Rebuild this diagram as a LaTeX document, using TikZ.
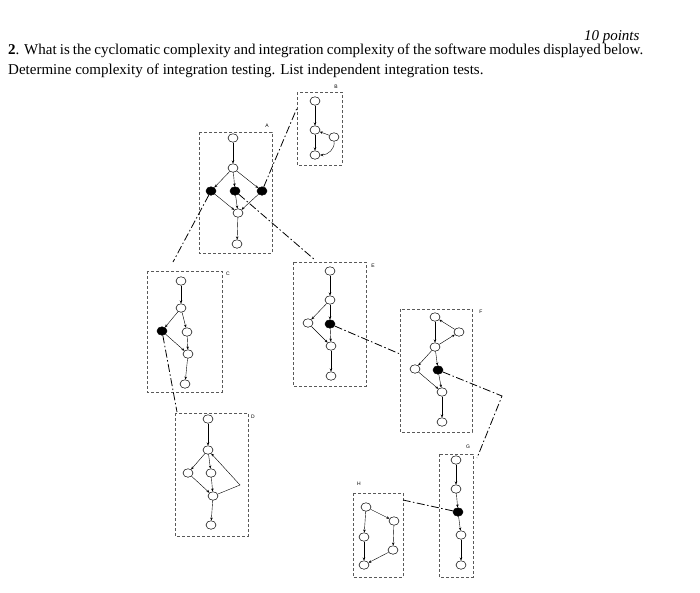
\documentclass[tikz,border=0pt]{standalone}
\usepackage{fontspec}
\setmainfont{Liberation Serif}
\setsansfont{Liberation Sans}
\usetikzlibrary{shapes.geometric,arrows.meta}
\begin{document}
\begin{tikzpicture}[x=1pt,y=-1pt,
  v/.style={ellipse,draw,line width=0.5pt,minimum width=10pt,minimum height=8.5pt,inner sep=0pt},
  b/.style={v,fill=black},
  e/.style={-{Stealth[length=3pt,width=2.5pt]},line width=0.4pt},
  box/.style={draw,densely dashed,line width=0.4pt,gray!70!black},
  lab/.style={font=\sffamily\fontsize{5}{6}\selectfont},
  link/.style={line width=0.8pt,dash pattern=on 8pt off 2.5pt on 1.5pt off 2.5pt}]
\useasboundingbox (0,0) rectangle (700,592);
\node[anchor=base east,font=\fontsize{15}{18}\selectfont\itshape] (pts) at (643,40) {10 points};
\node[anchor=north west,inner sep=0pt,text width=635pt,align=justify,font=\fontsize{15}{19.5}\selectfont] (q) at (8,44)
 {\textbf{2}. What is the cyclomatic complexity and integration complexity of the software modules displayed below. Determine complexity of integration testing. List independent integration tests.};
% A
\draw[box] (199,132) rectangle (272,253); \node[lab] (lA) at (267,126) {A};
\node[v] (a1) at (233,138) {}; \node[v] (a2) at (233,168) {};
\node[b] (a3) at (211,191) {}; \node[b] (a4) at (235,191) {}; \node[b] (a5) at (262,191) {};
\node[v] (a6) at (238,213) {}; \node[v] (a7) at (237,244) {};
\draw[e] (a1)--(a2); \draw[e] (a2)--(a3); \draw[e] (a2)--(a4); \draw[e] (a2)--(a5);
\draw[e] (a3)--(a6); \draw[e] (a4)--(a6); \draw[e] (a5)--(a6); \draw[e] (a6)--(a7);
% B
\draw[box] (297,92) rectangle (342,165); \node[lab] (lB) at (336,87) {B};
\node[v] (b1) at (315,101) {}; \node[v] (b2) at (315,130) {}; \node[v] (b3) at (334,137) {}; \node[v] (b4) at (315,155) {};
\draw[e] (b1)--(b2); \draw[e] (b2)--(b4); \draw[e] (b3)--(b2); \draw[e] (b3.south) to[out=-80,in=0] (b4);
% C
\draw[box] (147,271) rectangle (222,392); \node[lab] (lC) at (228,274) {C};
\node[v] (c1) at (181,281) {}; \node[v] (c2) at (181,308) {}; \node[b] (c3) at (162,331) {};
\node[v] (c4) at (187,332) {}; \node[v] (c5) at (188,354) {}; \node[v] (c6) at (185,384) {};
\draw[e] (c1)--(c2); \draw[e] (c2)--(c3); \draw[e] (c2)--(c4); \draw[e] (c3)--(c5); \draw[e] (c4)--(c5); \draw[e] (c5)--(c6);
% D
\draw[box] (175,413) rectangle (248,536); \node[lab] (lD) at (253,417) {D};
\node[v] (d1) at (208,419) {}; \node[v] (d2) at (208,450) {}; \node[v] (d3) at (188,473) {};
\node[v] (d4) at (211,473) {}; \node[v] (d5) at (213,496) {}; \node[v] (d6) at (211,525) {};
\coordinate (dk) at (240,485);
\draw[e] (d1)--(d2); \draw[e] (d2)--(d3); \draw[e] (d2)--(d4); \draw[e] (d3)--(d5); \draw[e] (d4)--(d5); \draw[e] (d5)--(d6);
\draw[e] (d5)--(dk)--(d2);
% E
\draw[box] (293,262) rectangle (366,386); \node[lab] (lE) at (373,266) {E};
\node[v] (e1) at (330,271) {}; \node[v] (e2) at (330,300) {}; \node[v] (e3) at (308,323) {};
\node[b] (e4) at (330,324) {}; \node[v] (e5) at (331,346) {}; \node[v] (e6) at (331,376) {};
\draw[e] (e1)--(e2); \draw[e] (e2)--(e3); \draw[e] (e2)--(e4); \draw[e] (e3)--(e5); \draw[e] (e4)--(e5); \draw[e] (e5)--(e6);
% F
\draw[box] (400,309) rectangle (472,432); \node[lab] (lF) at (481,312) {F};
\node[v] (f1) at (435,317) {}; \node[v] (f2) at (459,332) {}; \node[v] (f3) at (435,347) {};
\node[v] (f4) at (415,369) {}; \node[b] (f5) at (438,370) {}; \node[v] (f6) at (442,392) {}; \node[v] (f7) at (442,422) {};
\draw[e] (f1)--(f3); \draw[e] (f3)--(f2); \draw[e] (f2)--(f1); \draw[e] (f3)--(f4); \draw[e] (f3)--(f5);
\draw[e] (f4)--(f6); \draw[e] (f5)--(f6); \draw[e] (f6)--(f7);
% G
\draw[box] (439,454) rectangle (473,577); \node[lab] (lG) at (468,447) {G};
\node[v] (g1) at (456,460) {}; \node[v] (g2) at (456,489) {}; \node[b] (g3) at (458,512) {};
\node[v] (g4) at (461,535) {}; \node[v] (g5) at (461,565) {};
\draw[e] (g1)--(g2); \draw[e] (g2)--(g3); \draw[e] (g3)--(g4); \draw[e] (g4)--(g5);
% H
\draw[box] (353,493) rectangle (403,577); \node[lab] (lH) at (359,484) {H};
\node[v] (h1) at (366,507) {}; \node[v] (h2) at (394,521) {}; \node[v] (h3) at (364,537) {};
\node[v] (h4) at (393,550) {}; \node[v] (h5) at (364,565) {};
\draw[e] (h1)--(h2); \draw[e] (h1)--(h3); \draw[e] (h2)--(h4); \draw[e] (h3)--(h5); \draw[e] (h4)--(h5);
% links
\coordinate (kB) at (297,108); \coordinate (kC) at (173,262); \coordinate (kE) at (315,260);
\coordinate (kD) at (177,412); \coordinate (kF) at (400,354); \coordinate (kG1) at (502,396);
\coordinate (kG) at (477,458); \coordinate (kH) at (403,500);
\draw[link] (a5)--(kB); \draw[link] (a3)--(kC); \draw[link] (a4)--(kE);
\draw[link] (c3)--(kD); \draw[link] (e4)--(kF); \draw[link] (f5)--(kG1)--(kG); \draw[link] (g3)--(kH);
\end{tikzpicture}
\end{document}
